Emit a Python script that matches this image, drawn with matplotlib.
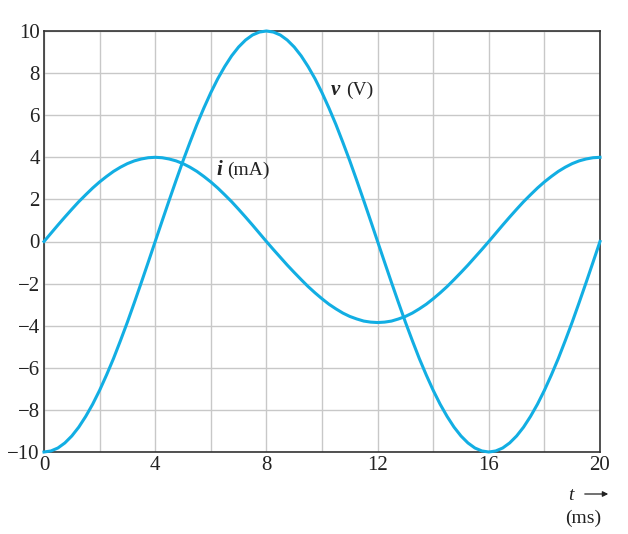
import matplotlib
matplotlib.use("Agg")
import matplotlib.pyplot as plt

# time axis (ms), read every 0.25 ms
t_ms = [k * 0.25 for k in range(81)]

# voltage v (V)
v_volts = [-10, -9.95, -9.81, -9.57, -9.24, -8.82, -8.31, -7.73, -7.07, -6.34, -5.56, -4.71, -3.83, -2.90, -1.95, -0.98, 0,
           0.98, 1.95, 2.90, 3.83, 4.71, 5.56, 6.34, 7.07, 7.73, 8.31, 8.82, 9.24, 9.57, 9.81, 9.95, 10,
           9.95, 9.81, 9.57, 9.24, 8.82, 8.31, 7.73, 7.07, 6.34, 5.56, 4.71, 3.83, 2.90, 1.95, 0.98, 0,
           -0.98, -1.95, -2.90, -3.83, -4.71, -5.56, -6.34, -7.07, -7.73, -8.31, -8.82, -9.24, -9.57, -9.81, -9.95, -10,
           -9.95, -9.81, -9.57, -9.24, -8.82, -8.31, -7.73, -7.07, -6.34, -5.56, -4.71, -3.83, -2.90, -1.95, -0.98, 0]

# current i (mA)
i_milliamps = [0, 0.39, 0.78, 1.16, 1.53, 1.89, 2.22, 2.54, 2.83, 3.09, 3.33, 3.53, 3.70, 3.83, 3.92, 3.98, 4.0,
               3.98, 3.92, 3.83, 3.70, 3.53, 3.33, 3.09, 2.83, 2.54, 2.22, 1.89, 1.53, 1.16, 0.78, 0.39, 0,
               -0.38, -0.75, -1.12, -1.47, -1.81, -2.14, -2.44, -2.72, -2.98, -3.20, -3.40, -3.56, -3.68, -3.78, -3.83, -3.85,
               -3.83, -3.78, -3.68, -3.56, -3.40, -3.20, -2.98, -2.72, -2.44, -2.14, -1.81, -1.47, -1.12, -0.75, -0.38, 0,
               0.39, 0.78, 1.16, 1.53, 1.89, 2.22, 2.54, 2.83, 3.09, 3.33, 3.53, 3.70, 3.83, 3.92, 3.98, 4.0]

x_ticks = [0, 4, 8, 12, 16, 20]
y_ticks = [-10, -8, -6, -4, -2, 0, 2, 4, 6, 8, 10]

plt.rcParams['font.family'] = ['Liberation Serif', 'DejaVu Serif']
plt.rcParams['axes.unicode_minus'] = True

curve_color = '#12AEE3'
ink = '#222222'

fig = plt.figure(figsize=(6.28, 5.34), dpi=100)
ax = fig.add_axes([44 / 628, 1 - 452 / 534, 556 / 628, 421 / 534])

ax.plot(t_ms, v_volts, color=curve_color, lw=2.2, clip_on=False, zorder=3,
        solid_joinstyle='round')
ax.plot(t_ms, i_milliamps, color=curve_color, lw=2.2, clip_on=False, zorder=3,
        solid_joinstyle='round')

ax.set_xlim(0, 20)
ax.set_ylim(-10, 10)
ax.set_xticks(x_ticks)
ax.set_xticks(range(0, 21, 2), minor=True)
ax.set_yticks(y_ticks)
ax.set_xticklabels([str(x) for x in x_ticks])
ax.set_yticklabels([str(y).replace('-', '\u2212') for y in y_ticks])
ax.tick_params(which='both', length=0, labelsize=15, colors=ink, pad=3)
ax.grid(True, which='both', color='#c8c8c8', lw=1.0)
ax.set_axisbelow(True)
for sp in ax.spines.values():
    sp.set_color('#333333')
    sp.set_linewidth(1.2)

# curve labels
ax.text(10.3, 6.95, 'v', fontsize=15, style='italic', weight='bold', color=ink)
ax.text(10.85, 6.95, '(V)', fontsize=14, color=ink)
ax.text(6.2, 3.15, 'i', fontsize=15, style='italic', weight='bold', color=ink)
ax.text(6.6, 3.15, '(mA)', fontsize=14, color=ink)

# axis unit label
fig.text(571 / 628, 1 - 496 / 534, 't', fontsize=14, style='italic', color=ink,
         ha='center', va='center')
ax.annotate('', xy=(611 / 628, 1 - 494 / 534), xytext=(582 / 628, 1 - 494 / 534),
            xycoords='figure fraction', textcoords='figure fraction',
            arrowprops=dict(arrowstyle='-|>', color=ink, lw=0.9, mutation_scale=8))
fig.text(583 / 628, 1 - 518 / 534, '(ms)', fontsize=14, color=ink,
         ha='center', va='center')

fig.savefig('out.png', dpi=100)
